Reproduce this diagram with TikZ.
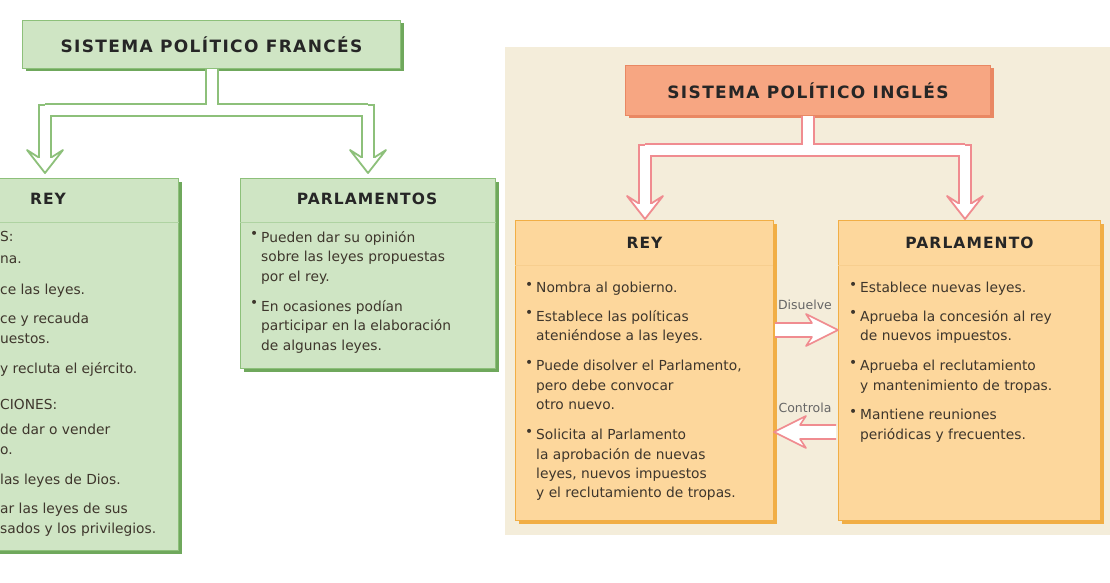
\documentclass[tikz,border=0pt]{standalone}
\usepackage{fontspec}
\setmainfont{DejaVu Sans}
\usetikzlibrary{shadows,calc}
\definecolor{gfill}{HTML}{CFE5C4}
\definecolor{gline}{HTML}{8DC07A}
\definecolor{gdark}{HTML}{6FA85C}
\definecolor{ofill}{HTML}{FDD79C}
\definecolor{oline}{HTML}{F1AE45}
\definecolor{sfill}{HTML}{F7A682}
\definecolor{sline}{HTML}{E98863}
\definecolor{bgcream}{HTML}{F4EDDA}
\definecolor{pk}{HTML}{F08C90}
\definecolor{txt}{HTML}{3E362C}
\tikzset{
  x=1pt,y=-1pt,
  gpanel/.style={draw=gline,fill=gfill,line width=1pt,anchor=north west,inner sep=0,
    general shadow={shadow xshift=3pt,shadow yshift=-3pt,fill=gdark}},
  opanel/.style={draw=oline,fill=ofill,line width=1pt,anchor=north west,inner sep=0,
    general shadow={shadow xshift=3pt,shadow yshift=-3pt,fill=oline}},
  spanel/.style={draw=sline,fill=sfill,line width=1pt,anchor=north west,inner sep=0,
    general shadow={shadow xshift=3pt,shadow yshift=-3pt,fill=sline}},
  ttl/.style={font=\bfseries\fontsize{17}{20}\selectfont\addfontfeature{LetterSpace=8},text=black!85},
  hdr/.style={font=\bfseries\fontsize{15.5}{18}\selectfont\addfontfeature{LetterSpace=7},text=black!85},
  item/.style={anchor=north west,inner sep=0,align=left,text=txt,
    font=\fontsize{13.8}{19.4}\selectfont},
  bul/.style={anchor=north west,inner sep=0,text=txt,font=\fontsize{13.8}{19.4}\selectfont},
  lbl/.style={inner sep=0,text=black!60,font=\fontsize{12.5}{14}\selectfont},
}
\newcommand\bitem[4]{\node[bul] at (#1,#2) {•}; \node[item] (#3) at ($(#1,#2)+(11,0)$) {#4};}
\begin{document}
\begin{tikzpicture}
\useasboundingbox (0,0) rectangle (1110,583);
\fill[white] (0,0) rectangle (1110,583);
\fill[bgcream] (505,47) rectangle (1110,535);
% French
\node[gpanel,minimum width=378,minimum height=48] (ft) at (22,20) {};
\node[ttl] at (ft.center) {SISTEMA POLÍTICO FRANCÉS};
\node[gpanel,minimum width=378,minimum height=372] (fr) at (-200,178) {};
\draw[gline!70] (-200,222) -- (fr.north east |- 0,222);
\node[hdr] at (48,199) {REY};
\node[gpanel,minimum width=255,minimum height=190] (fp) at (240,178) {};
\draw[gline!70] (240,222) -- (fp.north east |- 0,222);
\node[hdr] (fph) at (367,199) {PARLAMENTOS};
\begin{scope}[every node/.style={item}]
\node (f1) at (0,231) {S:};
\node (f2) at (0,256) {na.};
\node (f3) at (0,284) {ce las leyes.};
\node (f4) at (0,313) {ce y recauda\\uestos.};
\node (f5) at (0,362) {y recluta el ejército.};
\node (f6) at (0,399) {CIONES:};
\node (f7) at (0,424) {de dar o vender\\o.};
\node (f8) at (0,474) {las leyes de Dios.};
\node (f9) at (0,503) {ar las leyes de sus\\sados y los privilegios.};
\end{scope}
\bitem{250}{231}{p1}{Pueden dar su opinión\\sobre las leyes propuestas\\por el rey.}
\bitem{250}{300}{p2}{En ocasiones podían\\participar en la elaboración\\de algunas leyes.}
% green hollow connectors
\coordinate (fj) at (ft.south |- 0,110);
\draw[gline,line width=14pt] (ft.south) -- (fj) (45,110) -- (368,110) (45,104) -- (45,160) (368,104) -- (368,160);
\draw[white,line width=10pt] (ft.south) -- (fj) (45,110) -- (368,110) (45,106) -- (45,162) (368,106) -- (368,162);
\foreach \x in {45,368}{
  \draw[gline,fill=white,line width=1.8pt,line join=round] (\x-18,150) -- (\x,173) -- (\x+18,150) -- (\x+7,157) -- (\x-7,157) -- cycle;
  \fill[white] (\x-5,150) rectangle (\x+5,158);}
% English
\node[spanel,minimum width=365,minimum height=50] (et) at (625,65) {};
\node[ttl] at (et.center) {SISTEMA POLÍTICO INGLÉS};
\node[opanel,minimum width=258,minimum height=300] (er) at (515,220) {};
\draw[oline!60] (515,265) -- (773,265);
\node[hdr] at (er.north |- 0,243) {REY};
\node[opanel,minimum width=262,minimum height=300] (ep) at (838,220) {};
\draw[oline!60] (838,265) -- (1100,265);
\node[hdr] at (ep.north |- 0,243) {PARLAMENTO};
\bitem{525}{282}{r1}{Nombra al gobierno.}
\bitem{525}{310}{r2}{Establece las políticas\\ateniéndose a las leyes.}
\bitem{525}{360}{r3}{Puede disolver el Parlamento,\\pero debe convocar\\otro nuevo.}
\bitem{525}{429}{r4}{Solicita al Parlamento\\la aprobación de nuevas\\leyes, nuevos impuestos\\y el reclutamiento de tropas.}
\bitem{849}{282}{q1}{Establece nuevas leyes.}
\bitem{849}{310}{q2}{Aprueba la concesión al rey\\de nuevos impuestos.}
\bitem{849}{360}{q3}{Aprueba el reclutamiento\\y mantenimiento de tropas.}
\bitem{849}{409}{q4}{Mantiene reuniones\\periódicas y frecuentes.}
% pink hollow connectors
\coordinate (ej) at (et.south |- 0,150);
\draw[pk,line width=14pt] (et.south) -- (ej) (645,150) -- (965,150) (645,144) -- (645,205) (965,144) -- (965,205);
\draw[white,line width=10pt] (et.south) -- (ej) (645,150) -- (965,150) (645,146) -- (645,207) (965,146) -- (965,207);
\foreach \x in {645,965}{
  \draw[pk,fill=white,line width=1.8pt,line join=round] (\x-18,196) -- (\x,219) -- (\x+18,196) -- (\x+7,203) -- (\x-7,203) -- cycle;
  \fill[white] (\x-5,196) rectangle (\x+5,204);}
% Disuelve / Controla
\draw[pk,fill=white,line width=1.6pt,line join=round] (775,323) -- (812,323) -- (806,314) -- (838,330) -- (806,346) -- (812,337) -- (775,337);
\node[lbl] (dl) at (805,305) {Disuelve};
\draw[pk,fill=white,line width=1.6pt,line join=round] (836,425) -- (800,425) -- (806,416) -- (774,432) -- (806,448) -- (800,439) -- (836,439);
\node[lbl] (cl) at (805,408) {Controla};
\end{tikzpicture}
\end{document}
